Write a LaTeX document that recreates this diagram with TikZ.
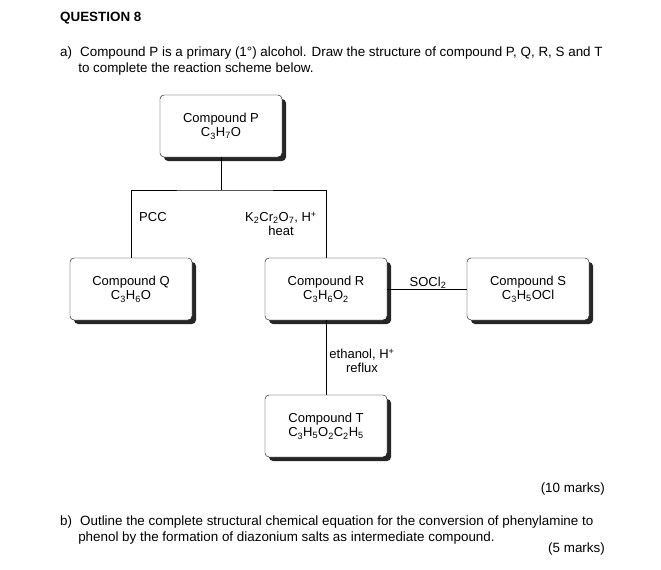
\documentclass[tikz,border=0pt]{standalone}
\usepackage{fontspec}
\setmainfont{Liberation Sans}
\newcommand{\sub}[1]{\textsubscript{#1}}
\begin{document}
\begin{tikzpicture}[
    x=1pt, y=-1pt,
    font=\fontsize{13}{14.5}\selectfont,
    compound/.style={rectangle, draw, fill=white, rounded corners=4pt, minimum width=122pt, minimum height=62pt, align=center, preaction={fill=black!85, transform canvas={shift={(4,4)}}}},
    cond/.style={align=center, inner sep=1pt},
    txt/.style={anchor=west, align=left, inner sep=0pt, font=\fontsize{13.4}{16}\selectfont}
]
\useasboundingbox (0,0) rectangle (661,570);

% Question text
\node[txt, font=\bfseries\fontsize{13.4}{16}\selectfont] (title) at (60,18) {QUESTION 8};
\node[txt] (parta) at (60,61) {a)\hspace{0.6em}Compound P is a primary (1\textdegree) alcohol. Draw the structure of compound P, Q, R, S and T\\\hspace{1.35em}to complete the reaction scheme below.};

% Compounds
\node[compound] (P) at (221,126) {Compound P\\C\sub{3}H\sub{7}O};
\node[compound] (Q) at (131,289) {Compound Q\\C\sub{3}H\sub{6}O};
\node[compound] (R) at (326,289) {Compound R\\C\sub{3}H\sub{6}O\sub{2}};
\node[compound] (S) at (528,289) {Compound S\\C\sub{3}H\sub{5}OCl};
\node[compound] (T) at (326,426) {Compound T\\C\sub{3}H\sub{5}O\sub{2}C\sub{2}H\sub{5}};

% Connectors
\coordinate (fork) at (221,190);
\draw (P) -- (fork);
\draw (Q.north) |- (fork) -| (R.north);
\draw (R) -- (S);
\draw (R) -- (T);

% Conditions
\node[cond, anchor=west] (pcc) at (138,217) {PCC};
\node[cond] (ox) at (281,224) {K\sub{2}Cr\sub{2}O\sub{7}, H\textsuperscript{+}\\heat};
\node[cond] (socl) at (428,283) {SOCl\sub{2}};
\node[cond] (est) at (362,361) {ethanol, H\textsuperscript{+}\\reflux};

% Marks and part b
\node[txt, anchor=east] (marksa) at (605,489) {(10 marks)};
\node[txt] (partb) at (60,530) {b)\hspace{0.6em}Outline the complete structural chemical equation for the conversion of phenylamine to\\\hspace{1.35em}phenol by the formation of diazonium salts as intermediate compound.};
\node[txt, anchor=east] (marksb) at (605,549) {(5 marks)};
\end{tikzpicture}
\end{document}
